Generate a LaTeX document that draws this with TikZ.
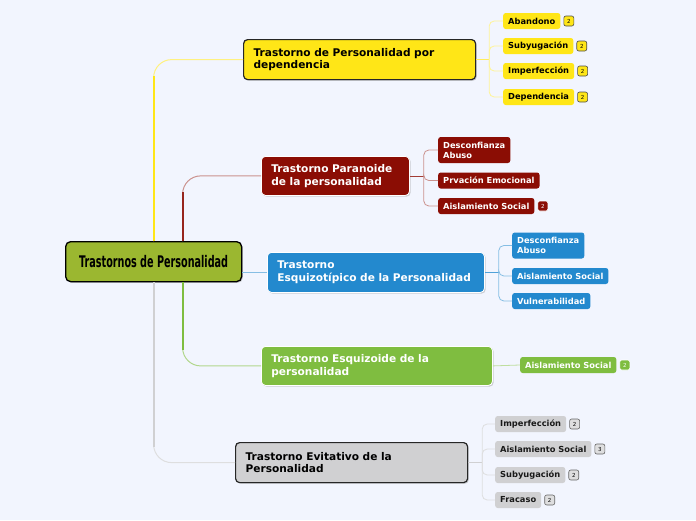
\documentclass[tikz,border=0pt]{standalone}
\usepackage{fontspec}
\setmainfont{DejaVu Sans}
\newfontfamily\rootfont[FakeStretch=0.67]{DejaVu Sans Condensed}
\usetikzlibrary{positioning,shadows}

\definecolor{bgcol}{RGB}{242,245,254}
\definecolor{rootcol}{RGB}{155,183,48}
\definecolor{ycol}{RGB}{255,230,23}
\definecolor{rcol}{RGB}{139,13,4}
\definecolor{bcol}{RGB}{35,137,206}
\definecolor{gcol}{RGB}{127,189,64}
\definecolor{grcol}{RGB}{208,208,210}

\tikzset{
  branch/.style={rounded corners=4pt, anchor=north west, inner xsep=10pt, inner ysep=0pt,
    align=left, font=\fontsize{10.6}{12.7}\selectfont\bfseries,
    drop shadow={shadow xshift=1.2pt, shadow yshift=-1.2pt, opacity=0.35}},
  dark/.style={draw=black!85, line width=1.2pt, text=black},
  light/.style={draw=white, line width=0.8pt, text=white},
  leaf/.style={rounded corners=2.5pt, anchor=west, inner xsep=5pt, inner ysep=0pt,
    minimum height=16pt, align=left, font=\fontsize{8.3}{10}\selectfont\bfseries},
  badge/.style={draw, rounded corners=2pt, minimum size=10pt, inner sep=0pt,
    line width=0.6pt, font=\fontsize{5.5}{6}\selectfont},
  link/.style={line width=1pt, rounded corners=18pt},
  stem/.style={line width=2pt},
  sublink/.style={line width=0.8pt, rounded corners=5pt}
}

\begin{document}
\begin{tikzpicture}[x=1pt,y=-1pt]
  \newcommand\brk{14}
  \fill[bgcol] (0,0) rectangle (696,520);
  \useasboundingbox (0,0) rectangle (696,520);

  % central topic
  \node[draw=black, line width=1.3pt, fill=rootcol, rounded corners=5pt, anchor=north west,
    minimum width=176pt, minimum height=40pt, inner sep=0pt,
    drop shadow={shadow xshift=1.2pt, shadow yshift=-1.2pt, opacity=0.35},
    font=\fontsize{16}{18}\selectfont\rootfont\bfseries] (root) at (65,241) {Trastornos de Personalidad};

  % main branches
  \node[branch, dark, fill=ycol, text width=212pt, minimum height=40pt] (dep) at (243,39)
    {Trastorno de Personalidad por\\dependencia};
  \node[branch, light, fill=rcol, text width=128pt, minimum height=39pt] (para) at (261,156)
    {Trastorno Paranoide\\de la personalidad};
  \node[branch, light, fill=bcol, text width=197pt, minimum height=40pt] (esqt) at (267,252)
    {Trastorno\\Esquizotípico de la Personalidad};
  \node[branch, light, fill=gcol, text width=211pt, minimum height=39pt] (esqd) at (261,346)
    {Trastorno Esquizoide de la\\personalidad};
  \node[branch, dark, fill=grcol, text width=212pt, minimum height=40pt] (evit) at (235,442)
    {Trastorno Evitativo de la\\Personalidad};

  \draw[link, ycol!55] (root.north) |- (dep.west);
  \draw[stem, ycol] (root.north) -- ([yshift=-16pt]root.north |- dep.west);
  \draw[link, rcol!45] ([xshift=29pt]root.north) |- (para.west);
  \draw[stem, rcol!90] ([xshift=29pt]root.north) -- ([xshift=29pt,yshift=-16pt]root.north |- para.west);
  \draw[link, bcol!55] (root.east |- esqt.west) -- (esqt.west);
  \draw[link, gcol!60] ([xshift=29pt]root.south) |- (esqd.west);
  \draw[stem, gcol] ([xshift=29pt]root.south) -- ([xshift=29pt,yshift=16pt]root.south |- esqd.west);
  \draw[link, grcol!70] (root.south) |- (evit.west);
  \draw[stem, grcol] (root.south) -- ([yshift=16pt]root.south |- evit.west);

  % dependencia
  \node[leaf, fill=ycol] (dep1) at (503,21) {Abandono};
  \node[leaf, fill=ycol] (dep2) at (503,46) {Subyugación};
  \node[leaf, fill=ycol] (dep3) at (503,71) {Imperfección};
  \node[leaf, fill=ycol] (dep4) at (503,97) {Dependencia};
  \draw[sublink, ycol!70] (dep.east) -- ++(13,0);
  \foreach \c in {dep1,dep2,dep3,dep4}{
    \draw[sublink, ycol!45] ([xshift=13pt]dep.east) |- (\c.west);
    \node[badge, fill=ycol, draw=black!70, right=3pt of \c] {2};
  }

  % paranoide
  \node[leaf, fill=rcol, text=white, minimum height=26pt] (para1) at (438,150) {Desconfianza\\Abuso};
  \node[leaf, fill=rcol, text=white] (para2) at (438,180.5) {Prvación Emocional};
  \node[leaf, fill=rcol, text=white] (para3) at (438,206) {Aislamiento Social};
  \draw[sublink, rcol!80] (para.east) -- ++(\brk,0);
  \foreach \c in {para1,para2,para3}
    \draw[sublink, rcol!45] ([xshift=\brk pt]para.east) |- (\c.west);
  \node[badge, fill=rcol, draw=white, text=white, right=3pt of para3] {2};

  % esquizotipico
  \node[leaf, fill=bcol, text=white, minimum height=26pt] (esqt1) at (512,245.5) {Desconfianza\\Abuso};
  \node[leaf, fill=bcol, text=white] (esqt2) at (512,276) {Aislamiento Social};
  \node[leaf, fill=bcol, text=white] (esqt3) at (512,301) {Vulnerabilidad};
  \draw[sublink, bcol!80] (esqt.east) -- ++(\brk,0);
  \foreach \c in {esqt1,esqt2,esqt3}
    \draw[sublink, bcol!55] ([xshift=\brk pt]esqt.east) |- (\c.west);

  % esquizoide
  \node[leaf, fill=gcol, text=white] (esqd1) at (520,365) {Aislamiento Social};
  \draw[sublink, gcol!50] (esqd.east) -- (esqd1.west);
  \node[badge, fill=gcol, draw=white, text=white, right=3pt of esqd1] {2};

  % evitativo
  \node[leaf, fill=grcol, text=black!90] (evit1) at (495,424) {Imperfección};
  \node[leaf, fill=grcol, text=black!90] (evit2) at (495,449) {Aislamiento Social};
  \node[leaf, fill=grcol, text=black!90] (evit3) at (495,475) {Subyugación};
  \node[leaf, fill=grcol, text=black!90] (evit4) at (495,500) {Fracaso};
  \draw[sublink, grcol] (evit.east) -- ++(\brk,0);
  \foreach \c/\n in {evit1/2,evit2/3,evit3/2,evit4/2}{
    \draw[sublink, grcol!70] ([xshift=\brk pt]evit.east) |- (\c.west);
    \node[badge, fill=grcol!70, draw=black!60, right=3pt of \c] {\n};
  }
\end{tikzpicture}
\end{document}
